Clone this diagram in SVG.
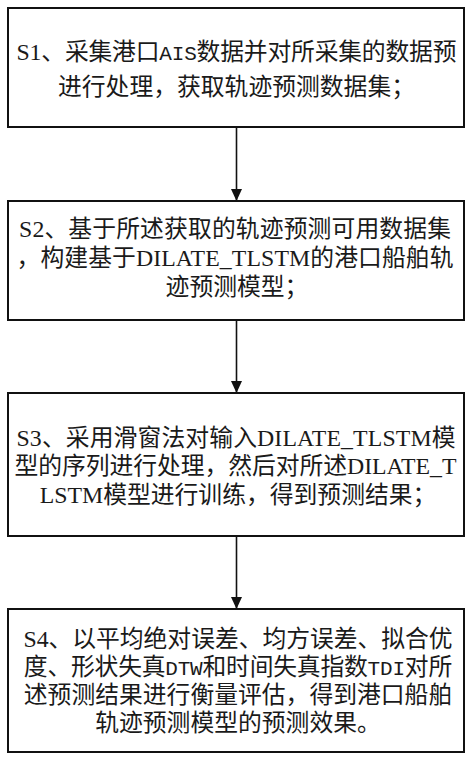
<svg xmlns="http://www.w3.org/2000/svg" width="474" height="760" viewBox="0 0 474 760">
<style>
.box{fill:#fff;stroke:#111;stroke-width:2}
.t{font-family:"Liberation Serif","Noto Sans CJK SC",serif;font-size:23.8px;fill:#1a1a1a;text-anchor:middle}
.m{font-family:"Liberation Mono","Noto Sans CJK SC",monospace;font-size:21px}
.c{stroke:#111;stroke-width:1.6;fill:none}
</style>
<defs>
<marker id="ah" markerWidth="12" markerHeight="11" refX="12" refY="5.5" orient="auto" markerUnits="userSpaceOnUse">
<path d="M0,0 L12,5.5 L0,11 Z" fill="#111"/>
</marker>
</defs>
<rect width="474" height="760" fill="#fff"/>
<g id="connectors">
<line class="c" x1="236.5" y1="127" x2="236.5" y2="201" marker-end="url(#ah)"/>
<line class="c" x1="236.5" y1="320" x2="236.5" y2="393" marker-end="url(#ah)"/>
<line class="c" x1="236.5" y1="536" x2="236.5" y2="609" marker-end="url(#ah)"/>
</g>
<g id="s1">
<rect class="box" x="8" y="8" width="456" height="119"/>
<text class="t" x="236.5" y="60" textLength="440">S1、采集港口<tspan class="m">AIS</tspan>数据并对所采集的数据预</text>
<text class="t" x="236.5" y="95" textLength="357">进行处理，获取轨迹预测数据集；</text>
</g>
<g id="s2">
<rect class="box" x="8" y="201" width="456" height="119"/>
<text class="t" x="235" y="237" textLength="432">S2、基于所述获取的轨迹预测可用数据集</text>
<text class="t" x="235" y="266" textLength="437">，构建基于DILATE_TLSTM的港口船舶轨</text>
<text class="t" x="237" y="295" textLength="142.8">迹预测模型；</text>
</g>
<g id="s3">
<rect class="box" x="8" y="393" width="456" height="143"/>
<text class="t" x="236" y="445.5" textLength="439">S3、采用滑窗法对输入DILATE_TLSTM模</text>
<text class="t" x="235.5" y="474" textLength="442">型的序列进行处理，然后对所述DILATE_T</text>
<text class="t" x="238" y="502.5" textLength="396.7">LSTM模型进行训练，得到预测结果；</text>
</g>
<g id="s4">
<rect class="box" x="8" y="609" width="456" height="143"/>
<text class="t" x="238" y="646.5" textLength="429">S4、以平均绝对误差、均方误差、拟合优</text>
<text class="t" x="238" y="675" textLength="428.4">度、形状失真<tspan class="m">DTW</tspan>和时间失真指数<tspan class="m">TDI</tspan>对所</text>
<text class="t" x="238" y="703" textLength="428.4">述预测结果进行衡量评估，得到港口船舶</text>
<text class="t" x="238" y="731" textLength="285.6">轨迹预测模型的预测效果。</text>
</g>
</svg>
